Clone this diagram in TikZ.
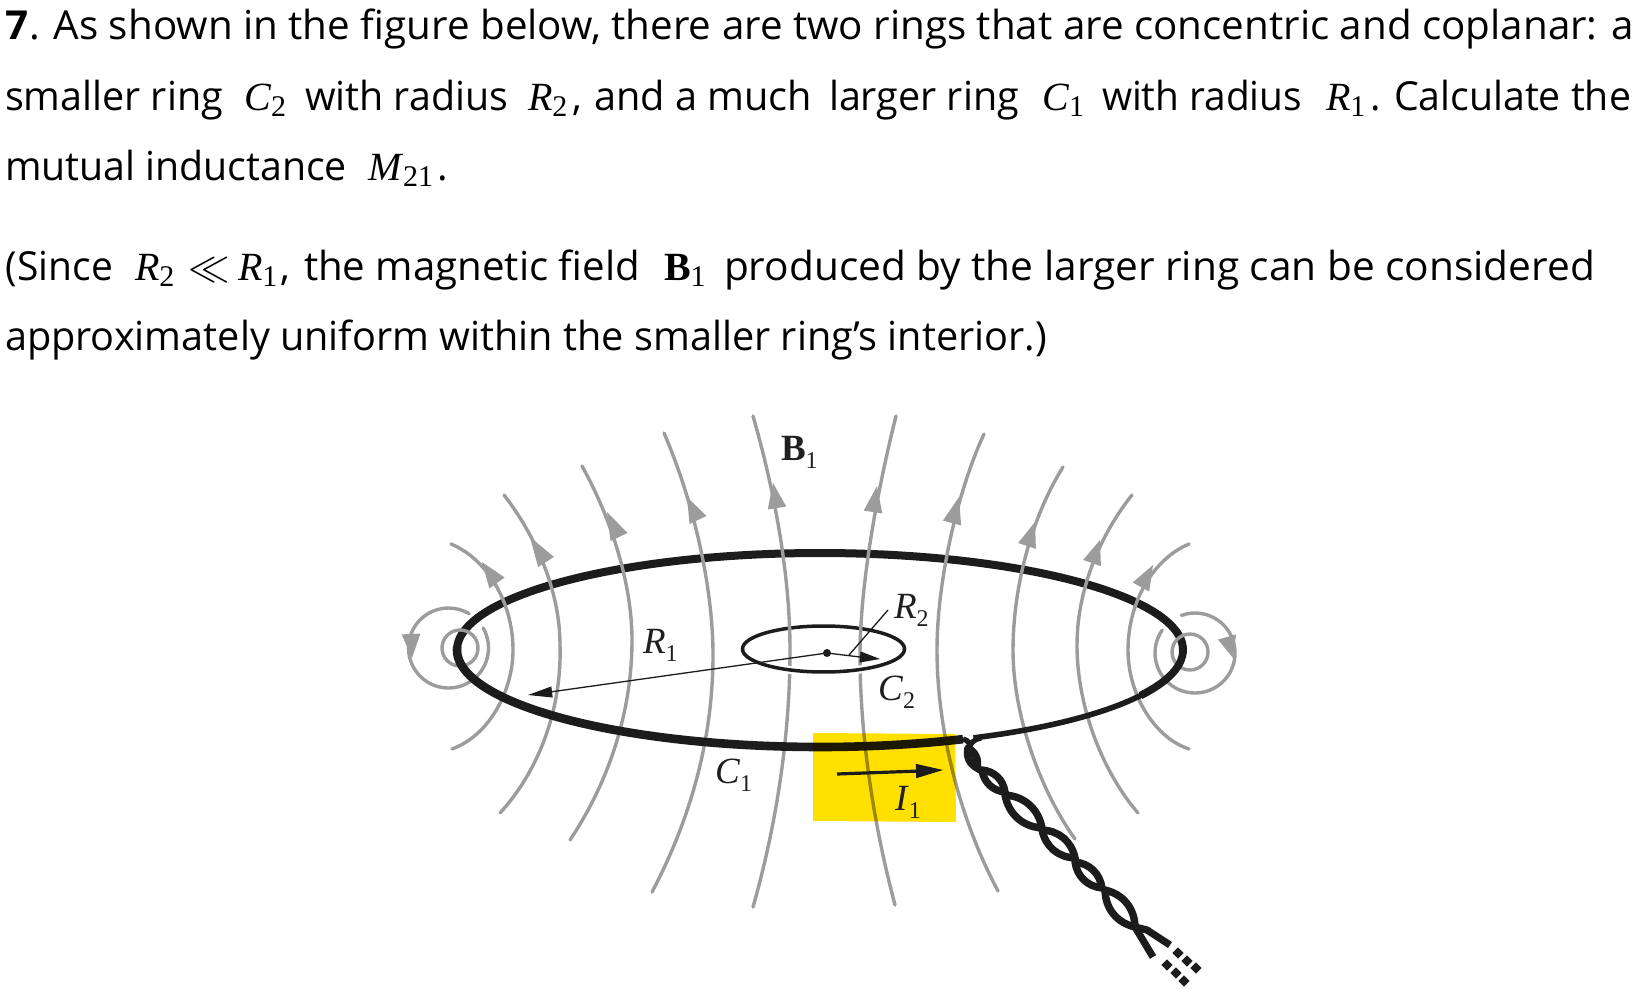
\documentclass[tikz,border=0pt]{standalone}
\usepackage{fontspec}
\usepackage{graphicx}
\usetikzlibrary{calc}
\setmainfont{Open Sans}
\newfontfamily\figfont{Liberation Serif}
\definecolor{fieldgray}{HTML}{9C9C9C}
\definecolor{wireblack}{HTML}{1C1C1C}
\definecolor{hilite}{HTML}{FFE000}
\newcommand\fitw[2]{\resizebox{\dimexpr #1pt/2\relax}{\height}{\strut #2}}
\newcommand\mth[2]{{\figfont\fontsize{20}{24}\selectfont\textit{#1}\raisebox{-3pt}{\fontsize{15}{18}\selectfont #2}}}
\newcommand\lbl[2]{{\figfont\fontsize{18.5}{20}\selectfont #1\raisebox{-4pt}{\fontsize{12}{14}\selectfont #2}}}
\newcommand\gh[2]{\fill[fieldgray] ($(#2)!4.7pt!90:(#1)$) -- (#1) -- ($(#2)!4.7pt!-90:(#1)$) -- cycle;}
\newcommand\bighead[3]{\fill[wireblack] ($(#2)!#3!90:(#1)$) -- (#1) -- ($(#2)!#3!-90:(#1)$) -- cycle;}
\newcommand\lens[2]{\draw[twist] (#1) to[bend left=38] (#2) to[bend left=38] (#1);}
\newcommand\dotsq[1]{\fill[wireblack,shift={(#1)},rotate=45] (-4,-4) rectangle (4,4);}
\tikzset{
 txt/.style={anchor=base west,inner sep=0pt,outer sep=0pt,font=\fontsize{20}{24}\selectfont},
 figlabel/.style={anchor=base west,inner sep=0pt,outer sep=0pt,text=black!88},
 fieldline/.style={draw=fieldgray,line width=1.7pt,line cap=round},
 wire/.style={draw=wireblack,line cap=butt},
 twist/.style={draw=wireblack,line width=3.7pt,line cap=round},
 thinline/.style={draw=wireblack,line width=0.65pt},
}
\begin{document}
\begin{tikzpicture}[x=0.5pt,y=-0.5pt]
\useasboundingbox (0,0) rectangle (1647,1000);
\fill[white] (0,0) rectangle (1647,1000);

% text
\node[txt] (t1) at (6,40) {\fitw{1628}{\textbf{7}. As shown in the figure below, there are two rings that are concentric and coplanar: a}};
\node[txt] (t2a) at (5,111) {\fitw{218}{smaller ring}};
\node[txt] (t2b) at (244,111) {\mth{C}{2}};
\node[txt] (t2c) at (305,111) {\fitw{203}{with radius}};
\node[txt] (t2d) at (528,111) {\mth{R}{2}};
\node[txt] (t2e) at (572,111) {,};
\node[txt] (t2f) at (594,111) {\fitw{218}{and a much}};
\node[txt] (t2g) at (829,111) {\fitw{190}{larger ring}};
\node[txt] (t2h) at (1042,111) {\mth{C}{1}};
\node[txt] (t2i) at (1102,111) {\fitw{200}{with radius}};
\node[txt] (t2j) at (1326,111) {\mth{R}{1}};
\node[txt] (t2k) at (1370,111) {\fitw{261}{. Calculate the}};
\node[txt] (t3a) at (5,181) {\fitw{342}{mutual inductance}};
\node[txt] (t3b) at (368,181) {\mth{M}{21}};
\node[txt] (t3c) at (437,181) {.};
\node[txt] (t4a) at (6,280) {\fitw{107}{(Since}};
\node[txt] (t4b) at (135,280) {\mth{R}{2}};
\node[txt] (t4c) at (188,280) {$\ll$};
\node[txt] (t4d) at (238,280) {\mth{R}{1}};
\node[txt] (t4e) at (280,280) {,};
\node[txt] (t4f) at (304,280) {\fitw{336}{the magnetic field}};
\node[txt] (t4g) at (664,280) {{\figfont\fontsize{20}{24}\selectfont\textbf{B}\raisebox{-3pt}{\fontsize{15}{18}\selectfont 1}}};
\node[txt] (t4h) at (724,280) {\fitw{871}{produced by the larger ring can be considered}};
\node[txt] (t5) at (5,350) {\fitw{1042}{approximately uniform within the smaller ring’s interior.)}};

% upper halves of the rings lie under the field lines
\draw[wire,line width=4pt] plot[domain=178:362,samples=120] ({820+363*cos(\x)},{650+97*sin(\x)});
\draw[wire,line width=1.75pt] plot[domain=178:362,samples=60] ({823.5+81*cos(\x)},{649+23*sin(\x)});

% field lines
\draw[fieldline] (753,416) .. controls (780,510) and (790,590) .. (790,650) .. controls (790,740) and (775,830) .. (753,907);
\draw[fieldline] (664,433) .. controls (695,505) and (713,590) .. (713,655) .. controls (713,740) and (690,820) .. (652,892);
\draw[fieldline] (582,466) .. controls (612,520) and (632,585) .. (632,640) .. controls (632,710) and (610,780) .. (570,840);
\draw[fieldline] (504,495) .. controls (535,535) and (560,590) .. (560,645) .. controls (562,715) and (535,775) .. (500,813);
\draw[fieldline] (451,544) .. controls (485,558) and (513,600) .. (513,650) .. controls (513,690) and (490,735) .. (452,749);
\draw[fieldline] (896,416) .. controls (875,500) and (860,590) .. (860,655) .. controls (860,740) and (875,830) .. (895,905);
\draw[fieldline] (984,434) .. controls (958,490) and (937,580) .. (937,650) .. controls (937,730) and (960,820) .. (998,891);
\draw[fieldline] (1063,467) .. controls (1030,520) and (1013,590) .. (1013,650) .. controls (1013,715) and (1040,790) .. (1075,839);
\draw[fieldline] (1132,495) .. controls (1100,535) and (1077,590) .. (1077,645) .. controls (1077,710) and (1105,775) .. (1138,813);
\draw[fieldline] (1189,544) .. controls (1155,558) and (1128,600) .. (1128,650) .. controls (1128,695) and (1155,738) .. (1189,749);

% field arrowheads
\gh{773,483}{777,508}
\gh{687,497}{698,520}
\gh{607,512}{619,537}
\gh{530,537}{546,562}
\gh{482,562}{497,583}
\gh{877,486}{873,512}
\gh{959,497}{952,523}
\gh{1035,522}{1027,546}
\gh{1100,540}{1092,563}
\gh{1153,565}{1141,587}

% circles round the wire
\draw[fieldline] (460,648) circle (18);
\draw[fieldline] (448.5,648) ++(-30:40) arc[start angle=-30,end angle=301,radius=40];
\gh{412,658}{411,634}
\draw[fieldline] (1190,652) circle (18);
\draw[fieldline] (1195,653) ++(215:40) arc[start angle=215,end angle=-110,radius=40];
\gh{1233,658}{1227,637}

% lower halves of the rings over the field lines
\draw[wire,line width=4.3pt] plot[domain=66.8:182,samples=60] ({820+363*cos(\x)},{650+97*sin(\x)});
\draw[wire,line width=3.8pt] plot[domain=-2:28,samples=16] ({820+363*cos(\x)},{650+97*sin(\x)});
\draw[wire,line width=2.8pt] plot[domain=27:65,samples=24] ({820+363*cos(\x)},{650+97*sin(\x)});
\draw[white,line width=4pt] plot[domain=20:160,samples=50] ({823.5+81*cos(\x)},{649+23*sin(\x)});
\draw[wire,line width=1.75pt] plot[domain=0:180,samples=60] ({823.5+81*cos(\x)},{649+23*sin(\x)});

% twisted pair
\coordinate (jl) at (963,739);
\coordinate (jr) at (981,738);
\coordinate (jt) at (969,752);
\draw[wire,line width=2.6pt] (jl) .. controls (968,740) and (972,744) .. (jt);
\draw[wire,line width=2.6pt] (jr) .. controls (974,739) and (968,744) .. (jt);
\lens{968,748}{977,768}
\lens{982,770}{1005,792}
\lens{1005,795}{1042,828}
\lens{1042,830}{1075,858}
\lens{1075,862}{1102,888}
\lens{1105,890}{1135,927}
\coordinate (s0) at (1135,927);
\coordinate (s1) at (1153,957);
\coordinate (s2) at (1147,930);
\coordinate (s3) at (1170,945);
\draw[wire,line width=3.6pt] (s0) -- (s1);
\draw[wire,line width=3.6pt] (s0) -- (s2) -- (s3);
\dotsq{1178,953}
\dotsq{1187,961}
\dotsq{1196,968}
\dotsq{1167,965}
\dotsq{1176,973}
\dotsq{1184,981}

% radii
\coordinate (ctr) at (827,653);
\coordinate (r1tip) at (528,695);
\coordinate (r1base) at (550,692);
\coordinate (r2tip) at (880,659);
\coordinate (r2base) at (860,657);
\coordinate (lead0) at (849,655);
\coordinate (lead1) at (888,610);
\draw[thinline] (ctr) -- (r1base);
\draw[thinline] (ctr) -- (r2base);
\draw[thinline] (lead0) -- (lead1);
\fill[wireblack] (ctr) circle (4);
\bighead{528,695}{552,692}{2.8pt}
\bighead{880,659}{860,657}{2.8pt}

% highlight and current arrow
\fill[hilite,blend mode=multiply] (813,733) -- (955,734) -- (956,822) -- (813,821) -- cycle;
\coordinate (i0) at (837,774);
\coordinate (i1) at (920,771);
\draw[wire,line width=1.6pt] (i0) -- (i1);
\bighead{943,770}{916,771}{3.6pt}

% labels
\node[figlabel] (b1) at (781,460) {{\figfont\fontsize{18.5}{20}\selectfont\bfseries B}\raisebox{-4pt}{\figfont\fontsize{12}{14}\selectfont 1}};
\node[figlabel] (r1) at (643,653) {\lbl{\textit{R}}{1}};
\node[figlabel] (r2) at (894,618) {\lbl{\textit{R}}{2}};
\node[figlabel] (c2) at (878,700) {\lbl{\textit{C}}{2}};
\node[figlabel] (c1) at (715,783) {\lbl{\textit{C}}{1}};
\node[figlabel] (i1l) at (895,810) {\lbl{\textit{I}}{1}};
\end{tikzpicture}
\end{document}
